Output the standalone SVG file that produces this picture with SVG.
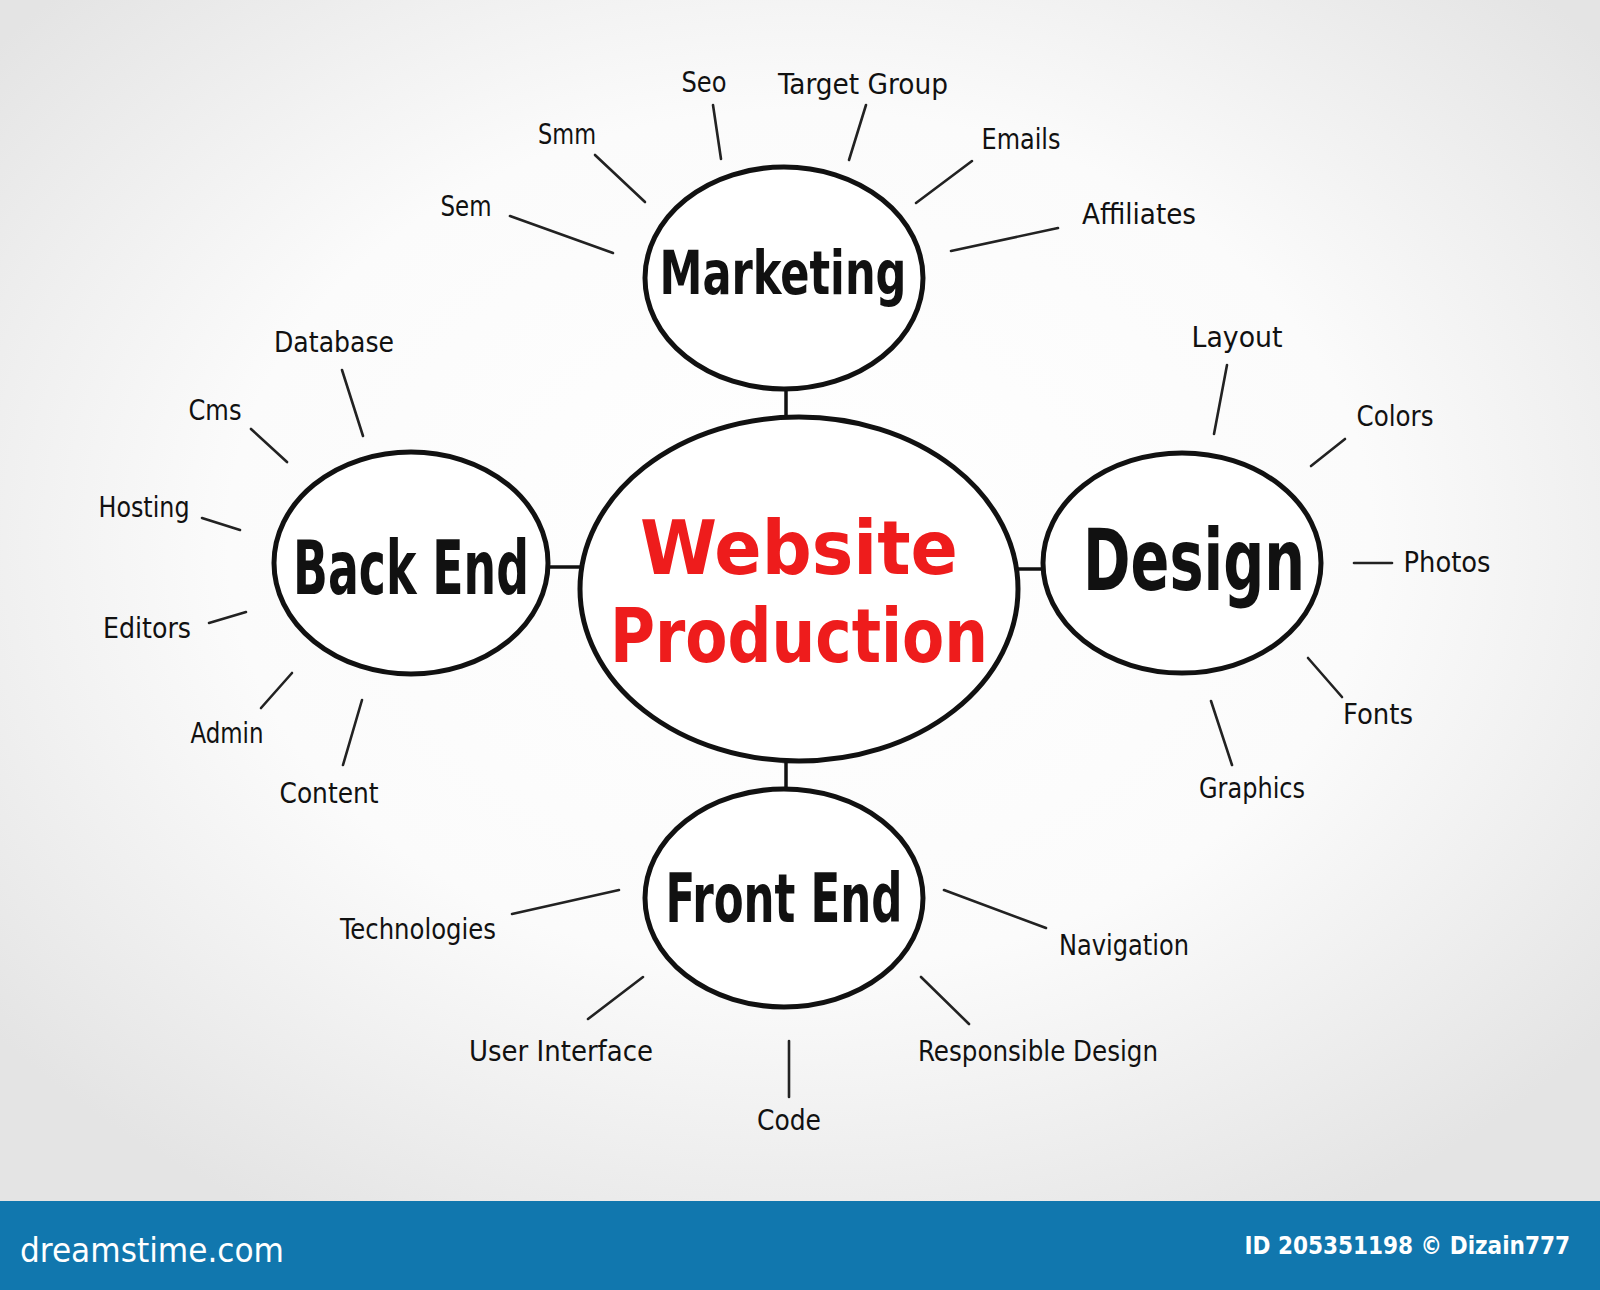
<svg xmlns="http://www.w3.org/2000/svg" width="1600" height="1290" viewBox="0 0 1600 1290">
<defs>
<radialGradient id="bg" cx="50%" cy="45%" r="65%">
<stop offset="0" stop-color="#ffffff"/>
<stop offset="0.55" stop-color="#fbfbfb"/>
<stop offset="1" stop-color="#e4e4e4"/>
</radialGradient>
</defs>
<style>
.node{fill:#fff;stroke:#111;stroke-width:5}
.spoke{stroke:#222;stroke-width:2.6;stroke-linecap:round;fill:none}
.link{stroke:#111;stroke-width:3.5;fill:none}
.lbl{font-family:"DejaVu Sans Condensed","DejaVu Sans",sans-serif;font-size:28px;fill:#111;text-anchor:middle}
.big{font-family:"DejaVu Sans Condensed","DejaVu Sans",sans-serif;font-weight:bold;fill:#111;text-anchor:middle}
.main{font-family:"DejaVu Sans Condensed","DejaVu Sans",sans-serif;font-weight:bold;fill:#ee1c1c;text-anchor:middle;font-size:74px}
.foot{font-family:"DejaVu Sans Condensed","DejaVu Sans",sans-serif;fill:#fff}
</style>
<rect x="0" y="0" width="1600" height="1201" fill="url(#bg)"/>
<rect x="0" y="1201" width="1600" height="89" fill="#1177ae"/>

<g id="connectors">
<line class="link" x1="786" y1="389" x2="786" y2="417"/>
<line class="link" x1="548" y1="567" x2="580" y2="567"/>
<line class="link" x1="1017" y1="569" x2="1044" y2="569"/>
<line class="link" x1="786" y1="760" x2="786" y2="789"/>
<line class="spoke" x1="713" y1="105" x2="721" y2="159"/>
<line class="spoke" x1="866" y1="105" x2="849" y2="160"/>
<line class="spoke" x1="595" y1="155" x2="645" y2="202"/>
<line class="spoke" x1="972" y1="161" x2="916" y2="203"/>
<line class="spoke" x1="510" y1="216" x2="613" y2="253"/>
<line class="spoke" x1="1058" y1="228" x2="951" y2="251"/>
<line class="spoke" x1="342" y1="370" x2="363" y2="436"/>
<line class="spoke" x1="251" y1="429" x2="287" y2="462"/>
<line class="spoke" x1="202" y1="518" x2="240" y2="530"/>
<line class="spoke" x1="209" y1="623" x2="246" y2="612"/>
<line class="spoke" x1="261" y1="708" x2="292" y2="673"/>
<line class="spoke" x1="343" y1="765" x2="362" y2="700"/>
<line class="spoke" x1="1227" y1="365" x2="1214" y2="434"/>
<line class="spoke" x1="1345" y1="439" x2="1311" y2="466"/>
<line class="spoke" x1="1354" y1="563" x2="1392" y2="563"/>
<line class="spoke" x1="1308" y1="658" x2="1342" y2="697"/>
<line class="spoke" x1="1211" y1="701" x2="1232" y2="765"/>
<line class="spoke" x1="512" y1="914" x2="619" y2="890"/>
<line class="spoke" x1="944" y1="890" x2="1046" y2="928"/>
<line class="spoke" x1="588" y1="1019" x2="643" y2="977"/>
<line class="spoke" x1="921" y1="977" x2="969" y2="1024"/>
<line class="spoke" x1="789" y1="1041" x2="789" y2="1097"/>
</g>

<g id="marketing">
<ellipse class="node" cx="784" cy="278" rx="139" ry="111"/>
<text class="big" x="783" y="294" font-size="60" textLength="247" lengthAdjust="spacingAndGlyphs">Marketing</text>
</g>
<g id="website-production">
<ellipse class="node" cx="799" cy="589" rx="219" ry="172" stroke-width="6"/>
<text class="main" x="799" y="574" textLength="318" lengthAdjust="spacingAndGlyphs">Website</text>
<text class="main" x="799" y="662" textLength="378" lengthAdjust="spacingAndGlyphs">Production</text>
</g>
<g id="back-end">
<ellipse class="node" cx="411" cy="563" rx="137" ry="111"/>
<text class="big" x="411" y="594" font-size="74" textLength="236" lengthAdjust="spacingAndGlyphs">Back End</text>
</g>
<g id="design">
<ellipse class="node" cx="1182" cy="563" rx="139" ry="110"/>
<text class="big" x="1194" y="590" font-size="86" textLength="222" lengthAdjust="spacingAndGlyphs">Design</text>
</g>
<g id="front-end">
<ellipse class="node" cx="784" cy="898" rx="139" ry="109"/>
<text class="big" x="784" y="922" font-size="68" textLength="237" lengthAdjust="spacingAndGlyphs">Front End</text>
</g>

<g id="seo"><text class="lbl" x="704" y="92" textLength="45" lengthAdjust="spacingAndGlyphs">Seo</text></g>
<g id="target-group"><text class="lbl" x="863" y="94" textLength="170" lengthAdjust="spacingAndGlyphs">Target Group</text></g>
<g id="smm"><text class="lbl" x="567" y="144" textLength="58" lengthAdjust="spacingAndGlyphs">Smm</text></g>
<g id="emails"><text class="lbl" x="1021" y="149" textLength="79" lengthAdjust="spacingAndGlyphs">Emails</text></g>
<g id="sem"><text class="lbl" x="466" y="216" textLength="51" lengthAdjust="spacingAndGlyphs">Sem</text></g>
<g id="affiliates"><text class="lbl" x="1139" y="224" textLength="114" lengthAdjust="spacingAndGlyphs">Affiliates</text></g>

<g id="database"><text class="lbl" x="334" y="352" textLength="120" lengthAdjust="spacingAndGlyphs">Database</text></g>
<g id="cms"><text class="lbl" x="215" y="420" textLength="53" lengthAdjust="spacingAndGlyphs">Cms</text></g>
<g id="hosting"><text class="lbl" x="144" y="517" textLength="91" lengthAdjust="spacingAndGlyphs">Hosting</text></g>
<g id="editors"><text class="lbl" x="147" y="638" textLength="88" lengthAdjust="spacingAndGlyphs">Editors</text></g>
<g id="admin"><text class="lbl" x="227" y="743" textLength="73" lengthAdjust="spacingAndGlyphs">Admin</text></g>
<g id="content"><text class="lbl" x="329" y="803" textLength="99" lengthAdjust="spacingAndGlyphs">Content</text></g>

<g id="layout"><text class="lbl" x="1237" y="347" textLength="91" lengthAdjust="spacingAndGlyphs">Layout</text></g>
<g id="colors"><text class="lbl" x="1395" y="426" textLength="77" lengthAdjust="spacingAndGlyphs">Colors</text></g>
<g id="photos"><text class="lbl" x="1447" y="572" textLength="87" lengthAdjust="spacingAndGlyphs">Photos</text></g>
<g id="fonts"><text class="lbl" x="1378" y="724" textLength="70" lengthAdjust="spacingAndGlyphs">Fonts</text></g>
<g id="graphics"><text class="lbl" x="1252" y="798" textLength="106" lengthAdjust="spacingAndGlyphs">Graphics</text></g>

<g id="technologies"><text class="lbl" x="418" y="939" textLength="156" lengthAdjust="spacingAndGlyphs">Technologies</text></g>
<g id="navigation"><text class="lbl" x="1124" y="955" textLength="130" lengthAdjust="spacingAndGlyphs">Navigation</text></g>
<g id="user-interface"><text class="lbl" x="561" y="1061" textLength="184" lengthAdjust="spacingAndGlyphs">User Interface</text></g>
<g id="responsible-design"><text class="lbl" x="1038" y="1061" textLength="240" lengthAdjust="spacingAndGlyphs">Responsible Design</text></g>
<g id="code"><text class="lbl" x="789" y="1130" textLength="64" lengthAdjust="spacingAndGlyphs">Code</text></g>

<text class="foot" x="20" y="1262" font-size="34" textLength="264" lengthAdjust="spacingAndGlyphs">dreamstime.com</text>
<text class="foot" x="1570" y="1254" font-size="24" font-weight="bold" text-anchor="end">ID 205351198 © Dizain777</text>
</svg>
